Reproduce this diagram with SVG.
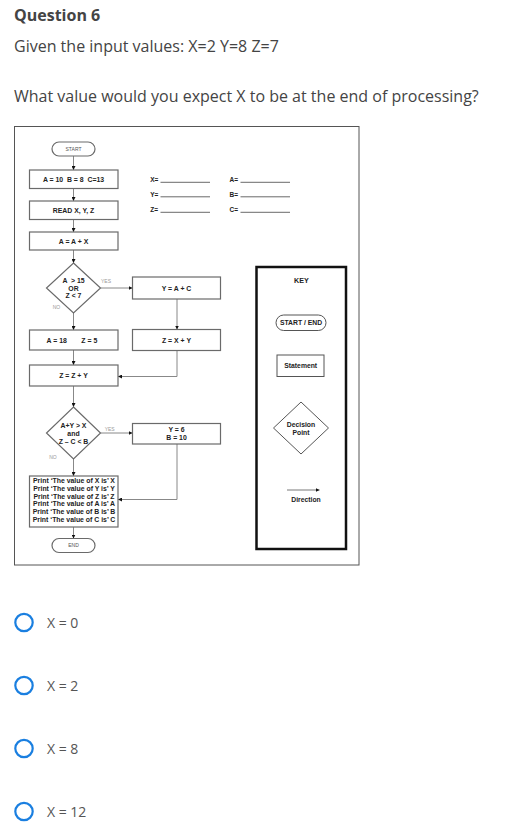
<svg xmlns="http://www.w3.org/2000/svg" width="506" height="832" viewBox="0 0 506 832">
<style>
.q{font-family:"Open Sans","Noto Sans",sans-serif;fill:#444}
.t{font-family:"Liberation Sans",Arial,sans-serif;font-weight:bold;fill:#222;text-anchor:middle}
.s{font-size:6.9px}
.tiny{font-family:"Liberation Sans",Arial,sans-serif;font-size:5px;fill:#999;text-anchor:middle}
.term{font-family:"Liberation Sans",Arial,sans-serif;font-size:5px;fill:#555;text-anchor:middle}
.box{fill:#fff;stroke:#6a6a6a;stroke-width:1.2}
.kbox{fill:#fff;stroke:#555;stroke-width:1}
.ln{fill:none;stroke:#888;stroke-width:1}
.bl{stroke:#444;stroke-width:0.8}
.opt{fill:none;stroke:#1a7fe0;stroke-width:2.2}
.ot{font-family:"Open Sans","Noto Sans",sans-serif;font-size:14px;fill:#555}
</style>
<defs>
<marker id="ah" viewBox="0 0 6 6" refX="6" refY="3" markerWidth="4" markerHeight="4" orient="auto" markerUnits="userSpaceOnUse">
<path d="M0,0 L6,3 L0,6 Z" fill="#111"/>
</marker>
</defs>
<rect width="506" height="832" fill="#fff"/>
<g id="question">
<text class="q" x="14" y="21" font-size="16" font-weight="bold">Question 6</text>
<text class="q" x="14" y="52" font-size="16">Given the input values: X=2 Y=8 Z=7</text>
<text class="q" x="14" y="102" font-size="16">What value would you expect X to be at the end of processing?</text>
</g>
<rect x="14.5" y="126.5" width="344.5" height="438.5" fill="none" stroke="#555" stroke-width="1"/>
<g id="connectors">
<path class="ln" d="M73.5,156 V170" marker-end="url(#ah)"/>
<path class="ln" d="M73.5,188.5 V201" marker-end="url(#ah)"/>
<path class="ln" d="M73.5,219.5 V232" marker-end="url(#ah)"/>
<path class="ln" d="M73.5,250 V263" marker-end="url(#ah)"/>
<path class="ln" d="M73.5,313 V330" marker-end="url(#ah)"/>
<path class="ln" d="M73.5,350 V365" marker-end="url(#ah)"/>
<path class="ln" d="M73.5,386 V407" marker-end="url(#ah)"/>
<path class="ln" d="M73.5,459 V476" marker-end="url(#ah)"/>
<path class="ln" d="M73.5,527 V538.5" marker-end="url(#ah)"/>
<path class="ln" d="M100.5,288 H132.5" marker-end="url(#ah)"/>
<path class="ln" d="M177,299 V329.5" marker-end="url(#ah)"/>
<path class="ln" d="M177,350.5 V376.5 H118" marker-end="url(#ah)"/>
<path class="ln" d="M100.5,433 H132.5" marker-end="url(#ah)"/>
<path class="ln" d="M177,444 V499.5 H118" marker-end="url(#ah)"/>
<text class="tiny" x="106" y="282.5">YES</text>
<text class="tiny" x="56.5" y="309">NO</text>
<text class="tiny" x="109.7" y="430.7">YES</text>
<text class="tiny" x="53" y="459">NO</text>
</g>
<g id="start">
<rect class="box" x="52" y="142" width="43" height="14" rx="7"/>
<text class="term" x="73.5" y="150.8">START</text>
</g>
<g id="init">
<rect class="box" x="29.5" y="170" width="88.5" height="18.5"/>
<text class="t s" x="73.5" y="181.8" xml:space="preserve">A = 10  B = 8  C=13</text>
</g>
<g id="read">
<rect class="box" x="29.5" y="201" width="88.5" height="18.5"/>
<text class="t s" x="73.5" y="212.8">READ X, Y, Z</text>
</g>
<g id="aplusx">
<rect class="box" x="29.5" y="232" width="88.5" height="18"/>
<text class="t s" x="73.5" y="243.5">A = A + X</text>
</g>
<g id="decision1">
<polygon class="box" points="73.5,263 100.5,288 73.5,313 46.5,288"/>
<text class="t s" x="73.5" y="283.2" xml:space="preserve">A  &gt; 15</text>
<text class="t s" x="73.5" y="290.6">OR</text>
<text class="t s" x="73.5" y="298.2">Z &lt; 7</text>
</g>
<g id="a18z5">
<rect class="box" x="29.5" y="330" width="88.5" height="20"/>
<text class="t s" x="56.7" y="342.5">A = 18</text>
<text class="t s" x="89.3" y="342.5">Z = 5</text>
</g>
<g id="zzy">
<rect class="box" x="29.5" y="365" width="88.5" height="21"/>
<text class="t s" x="73.5" y="378">Z = Z + Y</text>
</g>
<g id="yac">
<rect class="box" x="132.5" y="277" width="88" height="22"/>
<text class="t s" x="176.5" y="290.5">Y = A + C</text>
</g>
<g id="zxy">
<rect class="box" x="132.5" y="329.5" width="88" height="21"/>
<text class="t s" x="176.5" y="342.5">Z = X + Y</text>
</g>
<g id="decision2">
<polygon class="box" points="73.5,407 100.5,433 73.5,459 46.5,433"/>
<text class="t s" x="73.5" y="428.2">A+Y &gt; X</text>
<text class="t s" x="73.5" y="435.8">and</text>
<text class="t s" x="73.5" y="443.5">Z – C &lt; B</text>
</g>
<g id="y6b10">
<rect class="box" x="132.5" y="423.5" width="88" height="20.5"/>
<text class="t s" x="176.5" y="431.8">Y = 6</text>
<text class="t s" x="176.5" y="440.2">B = 10</text>
</g>
<g id="print">
<rect class="box" x="29.5" y="476" width="88.5" height="51"/>
<text class="t s" x="74" y="483.2">Print ‘The value of X is’ X</text>
<text class="t s" x="74" y="490.8">Print ‘The value of Y is’ Y</text>
<text class="t s" x="74" y="498.5">Print ‘The value of Z is’ Z</text>
<text class="t s" x="74" y="506.2">Print ‘The value of A is’ A</text>
<text class="t s" x="74" y="513.8">Print ‘The value of B is’ B</text>
<text class="t s" x="74" y="521.5">Print ‘The value of C is’ C</text>
</g>
<g id="end">
<rect class="box" x="52" y="538.5" width="43" height="14" rx="7"/>
<text class="term" x="73.5" y="547.3">END</text>
</g>
<g id="blanks">
<text class="t" x="154.2" y="182" font-size="6.5">X=</text>
<line class="bl" x1="160.5" y1="182.3" x2="210" y2="182.3"/>
<text class="t" x="154.2" y="196.5" font-size="6.5">Y=</text>
<line class="bl" x1="160.5" y1="196.8" x2="210" y2="196.8"/>
<text class="t" x="154.2" y="212" font-size="6.5">Z=</text>
<line class="bl" x1="160.5" y1="212.3" x2="210" y2="212.3"/>
<text class="t" x="233.8" y="182" font-size="6.5">A=</text>
<line class="bl" x1="240.5" y1="182.3" x2="290" y2="182.3"/>
<text class="t" x="233.8" y="196.5" font-size="6.5">B=</text>
<line class="bl" x1="240.5" y1="196.8" x2="290" y2="196.8"/>
<text class="t" x="233.8" y="212" font-size="6.5">C=</text>
<line class="bl" x1="240.5" y1="212.3" x2="290" y2="212.3"/>
</g>
<g id="key">
<rect x="256.5" y="267" width="89.5" height="282" fill="none" stroke="#111" stroke-width="2.5"/>
<text class="t" x="301.5" y="282.7" font-size="7.2">KEY</text>
<rect class="kbox" x="276" y="315" width="50" height="15.5" rx="7.7"/>
<text class="t" x="301" y="325.3" font-size="6.8">START / END</text>
<rect class="kbox" x="277" y="355" width="47" height="21.5"/>
<text class="t" x="300.7" y="368.3" font-size="6.8">Statement</text>
<polygon class="kbox" points="301,402 328.5,428 301,454 273.5,428"/>
<text class="t" x="301" y="426.5" font-size="6.8">Decision</text>
<text class="t" x="301" y="435.2" font-size="6.8">Point</text>
<line x1="287" y1="490" x2="319.5" y2="490" stroke="#555" stroke-width="0.8" marker-end="url(#ah)"/>
<text class="t" x="306" y="501.5" font-size="6.8">Direction</text>
</g>
<g id="options">
<circle class="opt" cx="24" cy="622.5" r="8.7"/>
<text class="ot" x="47" y="628">X = 0</text>
<circle class="opt" cx="24" cy="685.5" r="8.7"/>
<text class="ot" x="47" y="691">X = 2</text>
<circle class="opt" cx="24" cy="748.5" r="8.7"/>
<text class="ot" x="47" y="754">X = 8</text>
<circle class="opt" cx="24" cy="811.5" r="8.7"/>
<text class="ot" x="47" y="817">X = 12</text>
</g>
</svg>
